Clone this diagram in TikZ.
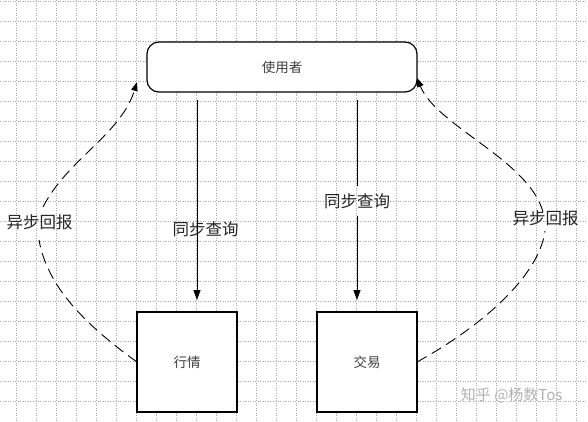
\documentclass[tikz,border=0pt]{standalone}
\usepackage{fontspec}
\newfontfamily\cjk{Noto Sans CJK SC}
\usetikzlibrary{arrows.meta}
\begin{document}
\begin{tikzpicture}[x=1pt,y=-1pt,
  gridline/.style={draw=black!35, line width=0.5pt, dash pattern=on 1pt off 1.5pt},
  box/.style={draw=black, line width=1.2pt, fill=white, minimum width=100pt, minimum height=100pt,
    inner sep=0pt, outer sep=0pt, font=\cjk\fontsize{13.5}{16}\selectfont, text=black!75},
  userbox/.style={box, minimum width=270pt, minimum height=50pt, rounded corners=12pt},
  lbl/.style={font=\cjk\fontsize{16.5}{20}\selectfont, text=black!85, inner sep=0pt},
  syncline/.style={draw=black, line width=0.9pt},
  sync/.style={syncline, -{Triangle[length=10pt,width=7pt]}},
  asyncline/.style={draw=black, line width=0.9pt, dash pattern=on 11pt off 6pt},
  async/.style={asyncline, -{Triangle[length=9pt,width=6.5pt]}},
  wmark/.style={font=\cjk\fontsize{15}{18}\selectfont, text=black!30, inner sep=0pt}
]
\useasboundingbox (0,0) rectangle (588,421);
\fill[white] (0,0) rectangle (588,421);
\foreach \x in {16.7,36.7,...,577} \draw[gridline] (\x,0) -- (\x,421);
\foreach \y in {1.7,21.7,...,410} \draw[gridline] (0,\y) -- (588,\y);

\node[userbox] (user) at (282,67) {使用者};
\node[box] (hq) at (187,362) {行情};
\node[box] (jy) at (367,362) {交易};

\node[lbl] (q1) at (205.5,229) {同步查询};
\node[lbl, inner ysep=7.5pt] (q2) at (357,201) {同步查询};
\node[lbl] (a1) at (39.5,222.5) {异步回报};
\node[lbl] (a2) at (545.5,218.5) {异步回报};
\node[wmark] (wm) at (511.7,395.5) {知乎 @杨数Tos};

\coordinate (a1s) at (39,240);
\coordinate (a1n) at (43,207);
\coordinate (a2s) at (545,231);
\coordinate (a2n) at (543,212);
\coordinate (tipL) at ([xshift=-10pt,yshift=10pt]user.south west);
\coordinate (tipR) at ([yshift=14pt]user.south east);

\draw[sync, shorten <=8pt, shorten >=12pt] ([xshift=-85pt]user.south) -- ([xshift=10pt]hq.north);
\draw[syncline, shorten <=8pt] ([xshift=75pt]user.south) -- (q2.north);
\draw[sync, shorten >=12pt] (q2.south) -- ([xshift=-10pt]jy.north);

\draw[asyncline] (hq.west) .. controls (76.3,318.5) and (46.4,281.1) .. (a1s);
\draw[async] (a1n) .. controls (67.4,159.2) and (120.8,134.6) .. (tipL);
\draw[asyncline] (jy.east) .. controls (478.6,328.1) and (538.7,277.6) .. (a2s);
\draw[async] (a2n) .. controls (528.6,159.8) and (436.8,126.4) .. (tipR);
\end{tikzpicture}
\end{document}
